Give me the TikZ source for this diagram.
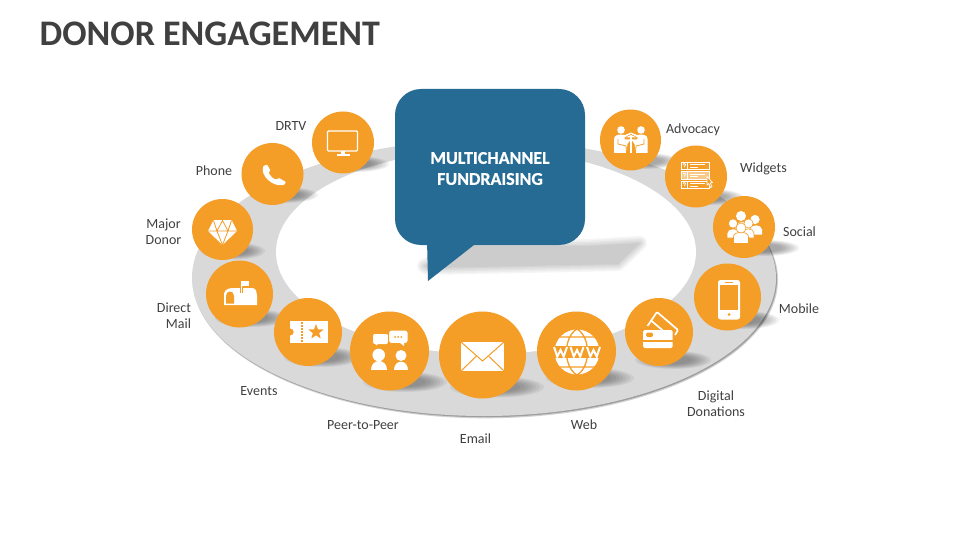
\documentclass[tikz,border=0pt]{standalone}
\usepackage{fontspec}
\setmainfont{Carlito}
\newfontface\hubfont{Carlito Bold}[FakeBold=0.7]
\usetikzlibrary{shapes.geometric}
\definecolor{disc}{HTML}{F49D27}
\definecolor{bubble}{HTML}{266B94}
\definecolor{ringc}{HTML}{D9D9D9}
\definecolor{ink}{HTML}{404040}
\tikzset{
  discnode/.style={circle,fill=disc,draw=none,inner sep=0pt,minimum size=#1},
  lab/.style={text=ink,font=\fontsize{14}{16.5}\selectfont,align=center,inner sep=0pt},
  ic/.style={fill=white,draw=none},
  icl/.style={draw=white,line width=#1,fill=none},
  cut/.style={draw=disc,line width=#1},
}
% soft blurred ellipse
\newcommand{\softell}[4]{%
  \foreach \k in {1.0,0.92,0.84,0.76,0.68,0.6,0.5}{%
    \fill[black,fill opacity=0.055] (#1,#2) ellipse [x radius={#3*\k},y radius={#4*\k}];}}
\newcommand{\pbody}[4]{(#1,#4) .. controls (#1,#3) and (#2,#3) .. (#2,#4) -- cycle}
% shouldered body: x1 x2 top bottom
\newcommand{\sbody}[4]{(#1,#4) -- (#1,#3+4.5) .. controls (#1,#3-1) and (#2,#3-1) .. (#2,#3+4.5) -- (#2,#4) -- cycle}
\begin{document}
\begin{tikzpicture}[x=1pt,y=-1pt]
\useasboundingbox (0,0) rectangle (960,540);
\fill[white] (0,0) rectangle (960,540);
\node[anchor=west,inner sep=0pt,text=ink,font=\fontsize{36}{40}\bfseries\selectfont] (title) at (39.5,34) {DONOR ENGAGEMENT};
% ring
\fill[black!18] (485.5,279.8) ellipse [x radius=292.5,y radius=138.5];
\fill[black!38] (485,279.2) ellipse [x radius=292,y radius=138];
\fill[ringc] (484,278) ellipse [x radius=292,y radius=138];
\fill[white] (486,252) ellipse [x radius=210,y radius=102];
% bubble shadow
\foreach \w/\c in {14/F5F5F5,11/EDEDED,8/E4E4E4,5/DCDCDC,2/D4D4D4}{
  \definecolor{shc}{HTML}{\c}
  \draw[draw=shc,fill=shc,line width=\w pt,line join=round]
    (424,266) -- (470,246) -- (590,246) -- (640,243) -- (618,264) -- (428,268) -- cycle;}
\fill[fill=black!20] (424,266) -- (470,246) -- (590,246) -- (640,243) -- (618,264) -- (428,268) -- cycle;
% disc shadows
\softell{355}{164}{34}{8}
\softell{284}{195}{34}{8}
\softell{233}{251}{32}{8.5}
\softell{251}{318}{36}{9}
\softell{322}{357}{38}{10}
\softell{405}{382}{42}{10}
\softell{497}{387}{47}{10.5}
\softell{590}{378}{44}{10}
\softell{673}{360}{38}{9}
\softell{743}{320}{36}{9}
\softell{765}{248}{34}{8}
\softell{709}{197}{34}{8}
\softell{645}{161}{34}{8}
% discs
\node[discnode=62pt] (drtv) at (343,142.5) {};
\node[discnode=62pt] (phone) at (272.5,174) {};
\node[discnode=61pt] (major) at (222.5,229.5) {};
\node[discnode=67pt] (direct) at (239.5,294) {};
\node[discnode=68pt] (events) at (308,332) {};
\node[discnode=79pt] (peer) at (389.5,351) {};
\node[discnode=87pt] (email) at (482.5,355) {};
\node[discnode=79pt] (web) at (576.5,351) {};
\node[discnode=68pt] (digital) at (659,332) {};
\node[discnode=67pt] (mobile) at (727.5,297) {};
\node[discnode=62pt] (social) at (744,227) {};
\node[discnode=62pt] (widgets) at (696,176.5) {};
\node[discnode=61pt] (advocacy) at (630.5,140) {};
% bubble
\fill[bubble,rounded corners=26pt] (395,89) rectangle (585,245);
\fill[bubble] (427,240) -- (428,281) -- (474,245) -- (474,240) -- cycle;
\node[text=white,font=\hubfont\fontsize{18}{21}\selectfont,align=center,inner sep=0pt] (hub) at (490,168.5) {MULTICHANNEL\\FUNDRAISING};
% TV
\draw[icl=1.4pt,rounded corners=1pt] (327.5,131) rectangle (357.5,151);
\fill[ic] (341,151) rectangle (345,154.5); \fill[ic] (336.5,154) rectangle (349.5,156);
% phone
\fill[ic,rounded corners=0.8pt] (267,164.5) -- (270.5,170.5) -- (268.5,172.5) .. controls (270,176) and (273,178.5) .. (276,179.5) -- (279,178) -- (286,182) -- (284,185) .. controls (272,187) and (260,175) .. (263.5,166) -- cycle;
% diamond
\fill[ic] (213.5,220) -- (231.5,220) -- (237,231) -- (222.5,245) -- (208,231) -- cycle;
\draw[cut=0.8pt] (208,231) -- (237,231) (213.5,220.5) -- (217,231) -- (222.5,220.5) -- (228,231) -- (231.5,220.5)
  (217,231) -- (222.5,245) -- (228,231);
% mailbox
\fill[ic] (224,305) -- (224,295) .. controls (224,288) and (231,288) .. (234,288) -- (252,288) .. controls (256,288) and (257,292) .. (257,295) -- (257,305) -- cycle;
\fill[disc] (226,303.5) -- (226,296) .. controls (226,290) and (234,290) .. (234,296) -- (234,303.5) -- cycle;
\fill[disc] (239.5,280) rectangle (243,293);
\fill[ic] (241,280.5) rectangle (249,285.5); \fill[ic] (240.5,280.5) rectangle (242,293);
% ticket
\fill[ic] (290,321) rectangle (328,343);
\fill[disc] (290,332) circle [radius=3.6];
\foreach \yy in {323,326,329,332,335,338,341}{\fill[disc] (300.8,\yy-0.8) rectangle (302.8,\yy+0.8);}
\node[star,star points=5,star point ratio=2.4,fill=disc,draw=none,inner sep=0pt,minimum size=16pt] (tstar) at (316,332) {};
% peer
\fill[ic] (373,336) .. controls (373,334.5) and (374,334) .. (375,334) -- (386,334) .. controls (387.5,334) and (388,335) .. (388,336) -- (388,342) .. controls (388,343.5) and (387,344) .. (386,344) -- (378,344) -- (376,345.5) -- (375.5,344) .. controls (374,344) and (373,343.5) .. (373,342) -- cycle;
\draw[cut=1pt,fill=white,rounded corners=2.5pt] (388.7,330) rectangle (408,343.5);
\fill[ic] (400,343) -- (404,346) -- (404,343) -- cycle;
\foreach \xx in {395,398.2,401.4}{\fill[disc] (\xx,337) circle [radius=1];}
\fill[ic] (378.7,355) circle [radius=6.3];
\fill[ic] \pbody{371}{387}{358}{370};
\fill[ic] (401,355.5) circle [radius=5.5];
\fill[ic] \pbody{394}{408}{358.5}{370};
% email
\fill[ic] (461,342) rectangle (504,371);
\draw[cut=1pt] (461,342) -- (482.5,361) -- (504,342) (461,371) -- (476,356.5) (504,371) -- (489,356.5);
% web
\fill[ic] (577,352) circle [radius=22.5];
\draw[cut=1.3pt] (577,329) .. controls (563,337) and (563,367) .. (577,375)
  (577,329) .. controls (591,337) and (591,367) .. (577,375)
  (560,337) -- (594,337) (560,367) -- (594,367);
\fill[disc] (552,345.5) rectangle (602,358);
\foreach \xa in {554,570.5,587}{
  \draw[white,line width=2pt,line join=miter] (\xa,347) -- (\xa+3.3,356.5) -- (\xa+6.5,350) -- (\xa+9.7,356.5) -- (\xa+13,347);}
% card
\draw[white,line width=1.7pt,line join=round,rounded corners=1pt] (647.5,326) -- (657,312) -- (678,330) -- (675,335);
\draw[white,line width=1.7pt] (651,320.5) -- (667,334);
\fill[ic,rounded corners=1.5pt] (643,330) rectangle (672.5,348);
\fill[disc] (643,339.7) rectangle (672.5,342);
\fill[disc,rounded corners=1.5pt] (646,332.5) rectangle (653,337);
% mobile
\fill[ic,rounded corners=2.5pt] (718,280) rectangle (740,319.5);
\fill[disc] (720,284.5) rectangle (738,310);
\fill[disc] (725,281.7) rectangle (733,282.7);
\fill[disc] (729,314.5) circle [radius=1.5];
% social
\fill[ic] (741,216) circle [radius=5];
\fill[ic] (755,219.5) circle [radius=4.6];
\fill[ic] \sbody{750}{762}{225}{234.5};
\draw[cut=0.6pt,fill=white] \sbody{735}{750}{221.5}{232};
\draw[cut=0.6pt,fill=white] (733,223.5) circle [radius=4.6];
\draw[cut=0.6pt,fill=white] (748.5,223.5) circle [radius=4.6];
\draw[cut=0.6pt,fill=white] \sbody{727}{739}{228.5}{238};
\draw[cut=0.6pt,fill=white] \sbody{742}{754}{228.5}{238};
\draw[cut=0.6pt,fill=white] \sbody{733.5}{748.5}{232}{243.5};
\draw[cut=0.6pt,fill=white] (741,228) circle [radius=5];
% widgets
\foreach \yt/\lo in {162/0,171.5/0.45,181/0}{
  \fill[white,fill opacity=\lo] (681,\yt) rectangle (709,\yt+7.5);
  \draw[icl=0.8pt] (681,\yt) rectangle (709,\yt+7.5) (687.5,\yt) -- (687.5,\yt+7.5);
  \draw[icl=0.8pt] (683,\yt+2.5) .. controls (683,\yt+1) and (685.5,\yt+1) .. (685.5,\yt+2.5) .. controls (685.5,\yt+3.5) and (684.2,\yt+3.5) .. (684.2,\yt+5);
  \draw[icl=0.9pt] (690,\yt+2.5) -- (705,\yt+2.5) (690,\yt+5) -- (698,\yt+5);}
\draw[fill=disc,draw=white,line width=0.7pt,line join=round] (707,176.5) -- (707,185) -- (708.7,183.5) -- (710.5,187.5) -- (712,186.8) -- (710.3,183) -- (712.5,182.5) -- cycle;
% advocacy
\fill[ic] (621,130) circle [radius=3.8];
\fill[ic] (641,130) circle [radius=3.8];
\fill[ic] (614,153) -- (614,139) .. controls (614,135) and (619,134.5) .. (621,134.5) -- (625,135) -- (631,132.5) -- (637,135) -- (641,134.5) .. controls (643,134.5) and (647.5,135) .. (647.5,139) -- (647.5,153) -- (636,153) -- (634.5,144) -- (631,139) -- (627.5,144) -- (626,153) -- cycle;
\draw[cut=0.8pt] (618,139) -- (618,144) -- (626,146) -- (626.5,153) (644,139) -- (644,144) -- (636,146) -- (635.5,153);
\fill[disc] (624.5,137.5) -- (631,134) -- (637.5,137.5) -- (637,139.5) -- (625,139.5) -- cycle;
\fill[ic] (625.5,137.5) -- (631,135) -- (636.5,137.5) -- cycle;
\fill[ic] (630,137) rectangle (632,153);
% labels
\node[lab] (ldrtv) at (291,126) {DRTV};
\node[lab] (lphone) at (214,171) {Phone};
\node[lab] (lmajor) at (163.5,231.5) {Major\\Donor};
\node[lab,align=right] (ldirect) at (174,315.5) {Direct\\Mail};
\node[lab] (levents) at (259,391) {Events};
\node[lab] (lpeer) at (363,425) {Peer-to-Peer};
\node[lab] (lemail) at (475.5,439) {Email};
\node[lab] (lweb) at (584,425) {Web};
\node[lab] (ldigital) at (716,403.5) {Digital\\Donations};
\node[lab] (lmobile) at (799,309) {Mobile};
\node[lab] (lsocial) at (799.5,232) {Social};
\node[lab] (lwidgets) at (763.5,169) {Widgets};
\node[lab] (ladvocacy) at (693,130) {Advocacy};
\end{tikzpicture}
\end{document}
